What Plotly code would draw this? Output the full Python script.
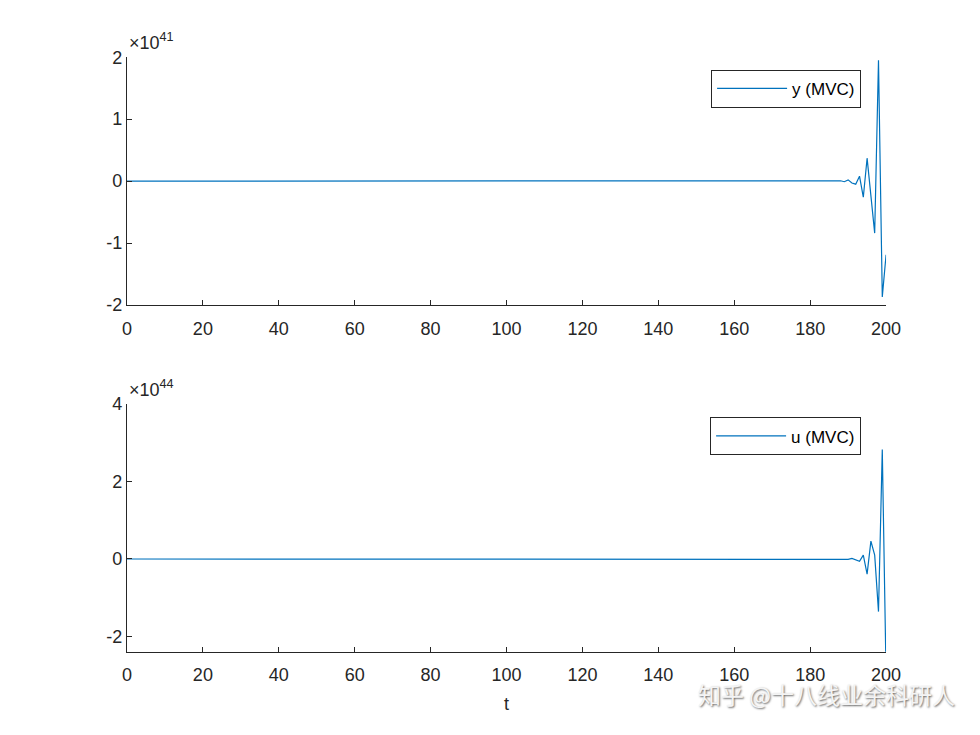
import plotly.graph_objects as go

t = list(range(0, 201))
y_tail = {188: 0.005, 189: -0.01, 190: 0.02, 191: -0.03, 192: -0.05, 193: 0.08, 194: -0.26,
          195: 0.37, 196: -0.2, 197: -0.84, 198: 1.95, 199: -1.87, 200: -1.19}
u_tail = {189: 0.004, 190: -0.01, 191: 0.015, 192: -0.03, 193: -0.06, 194: 0.1, 195: -0.39,
          196: 0.46, 197: 0.1, 198: -1.36, 199: 2.83, 200: -3.0}
y = [y_tail.get(k, 0.0) * 1e41 for k in t]
u = [u_tail.get(k, 0.0) * 1e44 for k in t]

col = "#0072BD"
font = dict(family="Liberation Sans, Arial", size=18, color="#262626")
fig = go.Figure()
fig.add_trace(go.Scatter(x=t, y=y, mode="lines", line=dict(color=col, width=1.2),
                         name="y (MVC)", xaxis="x", yaxis="y", legend="legend", showlegend=True))
fig.add_trace(go.Scatter(x=t, y=u, mode="lines", line=dict(color=col, width=1.2),
                         name="u (MVC)", xaxis="x2", yaxis="y2", legend="legend2", showlegend=True))

ax = dict(showgrid=False, zeroline=False, showline=True, linecolor="#262626", linewidth=1,
          ticks="inside", ticklen=5, tickcolor="#262626", tickfont=font, mirror=False,
          automargin=False)
xax = dict(ax, ticklabelstandoff=7)
lfont = dict(family="Liberation Sans, Arial", size=17, color="black")
xd = [0.1214, 0.896]
fig.update_layout(
    width=980, height=735, margin=dict(l=0, r=0, t=0, b=0, autoexpand=False),
    paper_bgcolor="white", plot_bgcolor="white", font=font, showlegend=True,
    xaxis=dict(xax, domain=xd, range=[0, 200], dtick=20, anchor="y"),
    yaxis=dict(ax, domain=[0.596, 0.933], range=[-2e41, 2e41],
               tickvals=[-2e41, -1e41, 0, 1e41, 2e41], ticktext=["-2", "-1", "0", "1", "2"], anchor="x"),
    xaxis2=dict(xax, domain=xd, range=[0, 200], dtick=20, anchor="y2",
                title=dict(text="t", font=font, standoff=12)),
    yaxis2=dict(ax, domain=[0.124, 0.461], range=[-2.4e44, 4e44],
                tickvals=[-2e44, 0, 2e44, 4e44], ticktext=["-2", "0", "2", "4"], anchor="x2"),
    legend=dict(x=0.8705, y=0.916, xanchor="right", yanchor="top", bordercolor="#262626",
                borderwidth=1, bgcolor="white", font=lfont, itemwidth=70),
    legend2=dict(x=0.8705, y=0.443, xanchor="right", yanchor="top", bordercolor="#262626",
                 borderwidth=1, bgcolor="white", font=lfont, itemwidth=70),
    annotations=[
        dict(text="×10<sup>41</sup>", x=0.121, y=0.936, xref="paper", yref="paper",
             xanchor="left", yanchor="bottom", showarrow=False, font=font),
        dict(text="×10<sup>44</sup>", x=0.121, y=0.464, xref="paper", yref="paper",
             xanchor="left", yanchor="bottom", showarrow=False, font=font),
        dict(text="知乎 @十八线业余科研人", x=0.968, y=0.066, xref="paper", yref="paper",
             xanchor="right", yanchor="middle", showarrow=False,
             font=dict(family="Noto Sans CJK SC", size=23, color="#f4f4f4",
                       shadow="1px 1px 2px #666")),
    ],
)
fig.write_html("out.html")
